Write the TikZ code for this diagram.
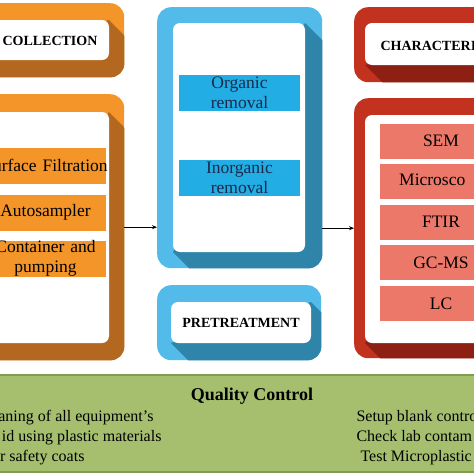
\documentclass[tikz,border=0pt]{standalone}
\usepackage{fontspec}
\setmainfont{Liberation Serif}
\usetikzlibrary{arrows.meta,calc}
\definecolor{CollOrange}{HTML}{F4952A}
\definecolor{CollOrangeDark}{HTML}{B4681F}
\definecolor{PreBlue}{HTML}{52BBEA}
\definecolor{PreBlueDark}{HTML}{2F84AA}
\definecolor{PreCyan}{HTML}{22ADE4}
\definecolor{PreNavy}{HTML}{1B2A4A}
\definecolor{CharRed}{HTML}{C3321F}
\definecolor{CharRedDark}{HTML}{8E2013}
\definecolor{CharSalmon}{HTML}{EC7869}
\definecolor{QcGreen}{HTML}{A5BF6F}
\definecolor{QcGreenDark}{HTML}{809C50}

% long shadow inside a frame node, then the white inner card
\newcommand\panelshade[4]{%
  \begin{scope}
    \clip[rounded corners=14pt] (#1.south west) rectangle (#1.north east);
    \fill[#4] (#3 |- #2) -- ($(#3 |- #2)+(90,90)$) -- ($(#3)+(90,90)$)
      -- ($(#2 |- #3)+(90,90)$) -- (#2 |- #3) -- cycle;
  \end{scope}
  \fill[white,rounded corners=7pt] (#2) rectangle (#3);}

\begin{document}
\begin{tikzpicture}[x=1pt,y=-1pt,
  frame/.style={rounded corners=14pt,inner sep=0pt,anchor=north west},
  item/.style={inner sep=0pt,minimum height=36pt,text width=121pt,align=center,
    font=\fontsize{17.5}{20}\selectfont},
  headtext/.style={font=\fontsize{14}{16}\selectfont\bfseries},
  link/.style={-{Stealth[length=5pt,width=4pt]},line width=0.7pt},
  qctext/.style={font=\fontsize{16}{18}\selectfont}]
	\useasboundingbox (0,0) rectangle (474,474);
	\clip (0,0) rectangle (474,474);
	\fill[white] (0,0) rectangle (474,474);

	% collection
	\node[frame,fill=CollOrange,minimum width=154,minimum height=74] (colhead) at (-30,3) {};
	\coordinate (colhead-tl) at (-20,20);
	\coordinate (colhead-br) at (109,60);
	\panelshade{colhead}{colhead-tl}{colhead-br}{CollOrangeDark}
	\node[headtext,anchor=base west] (colheadtext) at (-1,45) {COLLECTION};

	\node[frame,fill=CollOrange,minimum width=154,minimum height=266] (colmain) at (-30,94) {};
	\coordinate (colmain-tl) at (-20,112);
	\coordinate (colmain-br) at (109,343);
	\panelshade{colmain}{colmain-tl}{colmain-br}{CollOrangeDark}
	\node[item,fill=CollOrange] (filtration) at (45.5,165.5) {\makebox[0pt]{\phantom{S}urface Filtration}};
	\node[item,fill=CollOrange] (autosampler) at (45.5,212.5) {Autosampler};
	\node[item,fill=CollOrange] (pumping) at (45.5,258.5) {Container and\\pumping};

	% pretreatment
	\node[frame,fill=PreBlue,minimum width=165,minimum height=261] (pretmain) at (157,7) {};
	\coordinate (pretmain-tl) at (173,23);
	\coordinate (pretmain-br) at (305,252);
	\panelshade{pretmain}{pretmain-tl}{pretmain-br}{PreBlueDark}
	\node[item,fill=PreCyan,text=PreNavy] (organic) at (239.5,93) {Organic\\removal};
	\node[item,fill=PreCyan,text=PreNavy] (inorganic) at (239.5,178) {Inorganic\\removal};

	\node[frame,fill=PreBlue,minimum width=164,minimum height=75] (prethead) at (157,285) {};
	\coordinate (prethead-tl) at (171,302);
	\coordinate (prethead-br) at (311,343);
	\panelshade{prethead}{prethead-tl}{prethead-br}{PreBlueDark}
	\node[headtext] (pretheadtext) at (241,322.5) {PRETREATMENT};

	% characterisation
	\node[frame,fill=CharRed,minimum width=170,minimum height=75] (charhead) at (354,7) {};
	\coordinate (charhead-tl) at (365,23);
	\coordinate (charhead-br) at (540,65);
	\panelshade{charhead}{charhead-tl}{charhead-br}{CharRedDark}
	\node[headtext,anchor=base west] (charheadtext) at (377,50) {CHARACTERI};

	\node[frame,fill=CharRed,minimum width=170,minimum height=260] (charmain) at (354,98) {};
	\coordinate (charmain-tl) at (365,115);
	\coordinate (charmain-br) at (540,343);
	\panelshade{charmain}{charmain-tl}{charmain-br}{CharRedDark}
	\foreach \name/\txt [count=\i from 0] in {sem/SEM,micro/Microsco\phantom{py},ftir/FTIR,gcms/GC-MS,lc/LC}
		\node[item,fill=CharSalmon,text width=122pt,minimum height=35pt] (\name) at (441,141+40.6*\i) {\txt};

	% flow
	\draw[link] (colmain.east) -- (colmain.east -| pretmain.west);
	\draw[link] (pretmain.east |- charmain.west) -- (charmain.west);

	% quality control
	\node[fill=QcGreen,minimum width=480,minimum height=97,inner sep=0pt] (qc) at (237,423.5) {};
	\draw[QcGreenDark,line width=1.5pt] (qc.north west) -- (qc.north east) (qc.south west) -- (qc.south east);
	\node[font=\fontsize{18}{20}\selectfont\bfseries,anchor=base] (qctitle) at (252,400) {Quality Control};
	\node[qctext,anchor=base east] (qcl1) at (157,421) {aning of all equipment’s};
	\node[qctext,anchor=base east] (qcl2) at (165,441) {id using plastic materials};
	\node[qctext,anchor=base east] (qcl3) at (88,461) {r safety coats};
	\node[qctext,anchor=base west] (qcr1) at (353,421) {Setup blank contro};
	\node[qctext,anchor=base west] (qcr2) at (353,441) {Check lab contam};
	\node[qctext,anchor=base west] (qcr3) at (357,461) {Test Microplastic};
\end{tikzpicture}
\end{document}
